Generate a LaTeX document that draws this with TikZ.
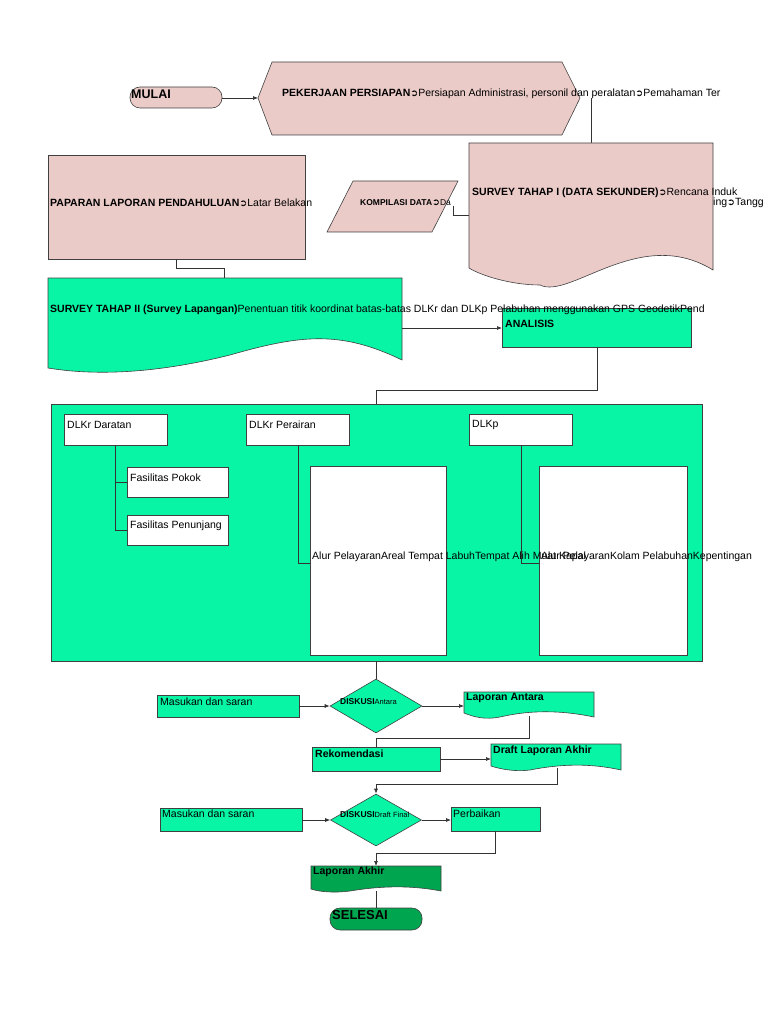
\documentclass[tikz,border=0pt]{standalone}
\usepackage{fontspec}
\setmainfont{Liberation Sans}
\newfontfamily\dvs{DejaVu Sans}
\usetikzlibrary{shapes.geometric,arrows.meta}
\definecolor{pinkf}{HTML}{EBCBC8}
\definecolor{greenf}{HTML}{08F5A5}
\definecolor{dgreen}{HTML}{00A550}
\newcommand{\ar}{{\dvs\fontsize{9.5}{10}\selectfont\symbol{"27B2}}}
\begin{document}
\begin{tikzpicture}[x=1pt,y=-1pt,
  box/.style={draw=black!75,line width=0.6pt},
  pbox/.style={box,fill=pinkf},
  gbox/.style={box,fill=greenf},
  wbox/.style={box,fill=white},
  lnk/.style={draw=black!80,line width=0.7pt},
  arr/.style={lnk,-{Latex[length=5pt,width=4pt]}},
  txt/.style={anchor=west,inner sep=0pt,font=\fontsize{10.5}{12}\selectfont},
  btxt/.style={txt,font=\fontsize{10.5}{12}\selectfont\bfseries}]
\useasboundingbox (0,0) rectangle (768,1024);
% MULAI
\draw[pbox,rounded corners=10pt] (130,87) rectangle (222,108);
\node[btxt,font=\fontsize{12.5}{14}\selectfont\bfseries] (mulai) at (131,94) {MULAI};
\coordinate (mulaiR) at (222,98);
% hexagon
\draw[pbox] (258,98) -- (272,62) -- (562,62) -- (580,98) -- (562,135) -- (272,135) -- cycle;
\coordinate (hexL) at (258,98);
\draw[arr] (mulaiR) -- (hexL);
\node[btxt] (pers) at (282,94) {PEKERJAAN PERSIAPAN\ar\mdseries Persiapan Administrasi, personil dan peralatan\ar Pemahaman Ter};
\coordinate (hexC) at (591,98);
% PAPARAN
\draw[pbox] (48,155) rectangle (305,259);
\node[btxt] (pap) at (50,203) {PAPARAN LAPORAN PENDAHULUAN\ar\mdseries Latar Belakan};
% kompilasi
\draw[pbox] (327,232) -- (353,181) -- (458,181) -- (432,232) -- cycle;
\node[btxt,font=\fontsize{8.5}{10}\selectfont\bfseries] (komp) at (360,203) {KOMPILASI DATA\ar\mdseries Da};
\coordinate (kompR) at (453,206);
% survey I
\coordinate (s1top) at (591,143);
\draw[lnk] (hexC) -- (s1top);
\draw[pbox] (469,143) -- (713,143) -- (713,270) .. controls (640,225) and (570,300) .. (540,285) .. controls (510,285) and (480,275) .. (469,268) -- cycle;
\draw[lnk] (kompR) |- (469,215);
\node[btxt] (s1) at (472,193) {SURVEY TAHAP I (DATA SEKUNDER)\ar\mdseries Rencana Induk};
\node[txt] (s1b) at (713,203) {ing\ar Tangg};
% survey II
\coordinate (papB) at (176,259);
\coordinate (s2top) at (224,278);
\draw[lnk] (papB) -- (176,268) -| (s2top);
\draw[gbox] (48,278) -- (402,278) -- (402,360) .. controls (340,330) and (300,335) .. (230,355) .. controls (150,375) and (90,375) .. (48,368) -- cycle;
\coordinate (s2R) at (402,328);
% ANALISIS
\draw[gbox] (502,308) rectangle (691,347);
\node[btxt] (ana) at (505,324) {ANALISIS};
\draw[arr] (s2R) -- (502,328);
\node[btxt] (s2) at (50,310) {SURVEY TAHAP II (Survey Lapangan)\mdseries Penentuan titik koordinat batas-batas DLKr dan DLKp Pelabuhan menggunakan GPS GeodetikPend};
% big box
\draw[lnk] (597,347) -- (597,390) -| (376,404);
\draw[gbox] (51,404) rectangle (702,661);
\draw[wbox] (64,414) rectangle (167,445);
\node[txt] (dd) at (67,425) {DLKr Daratan};
\draw[wbox] (246,414) rectangle (349,445);
\node[txt] (dp) at (249,425) {DLKr Perairan};
\draw[wbox] (469,414) rectangle (572,445);
\node[txt] (dk) at (472,425) {DLKp};
\draw[wbox] (127,467) rectangle (228,497);
\node[txt] (fp) at (130,478) {Fasilitas Pokok};
\draw[wbox] (127,515) rectangle (228,545);
\node[txt] (fn) at (130,526) {Fasilitas Penunjang};
\draw[lnk] (115,445) -- (115,530) -- (127,530);
\draw[lnk] (115,482) -- (127,482);
\draw[wbox] (310,466) rectangle (446,655);
\draw[wbox] (539,466) rectangle (687,655);
\draw[lnk] (298,445) |- (310,563);
\draw[lnk] (521,445) |- (539,563);
\node[txt] (ap) at (312,557) {Alur PelayaranAreal Tempat LabuhTempat Alih Muat Kapal};
\node[txt] (ak) at (541,557) {Alur PelayaranKolam PelabuhanKepentingan};
% diskusi 1
\node[draw=black!75,line width=0.6pt,fill=greenf,diamond,aspect=1.7,minimum width=92pt,minimum height=54pt,inner sep=0pt] (d1) at (376,706) {};
\draw[lnk] (376,661) -- (d1.north);
\node[btxt,font=\fontsize{8.5}{10}\selectfont\bfseries] at (340,702) {DISKUSI\mdseries\fontsize{7.5}{8}\selectfont Antara};
\draw[gbox] (157,695) rectangle (299,717);
\node[txt] (m1) at (160,702) {Masukan dan saran};
\draw[arr] (299,706) -- (d1.west);
\draw[gbox] (464,692) -- (594,692) -- (594,717) .. controls (560,710) and (530,710) .. (500,717) .. controls (485,720) and (474,717) .. (464,713) -- cycle;
\node[btxt] (la) at (466,698) {Laporan Antara};
\draw[arr] (d1.east) -- (464,706);
\draw[lnk] (529,716) -- (529,738) -| (376,747);
\draw[gbox] (312,747) rectangle (440,771);
\node[btxt] (rek) at (315,754) {Rekomendasi};
\draw[gbox] (491,744) -- (621,744) -- (621,770) .. controls (590,763) and (560,764) .. (530,770) .. controls (515,772) and (500,769) .. (491,766) -- cycle;
\node[btxt] (dla) at (493,751) {Draft Laporan Akhir};
\draw[arr] (440,759) -- (491,759);
% diskusi 2
\node[draw=black!75,line width=0.6pt,fill=greenf,diamond,aspect=1.7,minimum width=91pt,minimum height=52pt,inner sep=0pt] (d2) at (376,820) {};
\draw[arr] (557,768) -- (557,784) -| (d2.north);
\node[btxt,font=\fontsize{8.5}{10}\selectfont\bfseries] at (340,815) {DISKUSI\mdseries\fontsize{7.5}{8}\selectfont Draft Final};
\draw[gbox] (160,808) rectangle (302,831);
\node[txt] (m2) at (162,814) {Masukan dan saran};
\draw[arr] (302,820) -- (d2.west);
\draw[gbox] (451,807) rectangle (540,831);
\node[txt] (perb) at (453,814) {Perbaikan};
\draw[arr] (d2.east) -- (451,820);
% laporan akhir
\draw[arr] (495,831) -- (495,853) -| (376,866);
\draw[box,fill=dgreen] (311,866) -- (441,866) -- (441,891) .. controls (410,885) and (380,886) .. (350,891) .. controls (335,893) and (320,892) .. (311,889) -- cycle;
\node[btxt] (lak) at (313,872) {Laporan Akhir};
\draw[box,fill=dgreen,rounded corners=10pt] (330,908) rectangle (422,930);
\draw[lnk] (376,891) -- (376,908);
\node[btxt,font=\fontsize{13}{14}\selectfont\bfseries] (sel) at (332,915) {SELESAI};
\end{tikzpicture}
\end{document}
